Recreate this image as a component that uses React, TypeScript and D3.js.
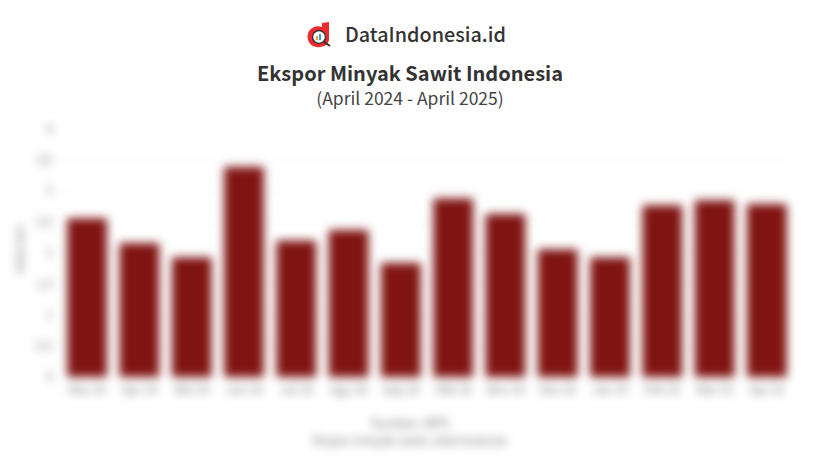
import React, { useEffect, useRef } from 'react'
import * as d3 from 'd3'

const months = ['Mar 24', 'Apr 24', 'Mei 24', 'Jun 24', 'Jul 24', 'Agu 24', 'Sep 24', 'Okt 24', 'Nov 24', 'Des 24', 'Jan 25', 'Feb 25', 'Mar 25', 'Apr 25']
const exportValues = [2.56, 2.16, 1.93, 3.39, 2.2, 2.37, 1.84, 2.88, 2.63, 2.06, 1.93, 2.77, 2.85, 2.79]
const yTicks = [0, 0.5, 1, 1.5, 2, 2.5, 3, 3.5, 4]

const sans = '"Noto Sans CJK SC", "Noto Sans", sans-serif'

export default function App() {
  const chartRef = useRef<SVGGElement>(null)

  useEffect(() => {
    if (!chartRef.current) return

    const g = d3.select(chartRef.current)
    g.selectAll('*').remove()

    const x = d3.scaleBand().domain(months).range([62, 792]).paddingInner(0.24).paddingOuter(0.1)
    const y = d3.scaleLinear().domain([0, 4]).range([377, 129])

    // white backing so the blur does not fade out unevenly around thin lines
    g.append('rect').attr('x', 0).attr('y', 112).attr('width', 820).attr('height', 348).attr('fill', '#fff')

    g.append('g')
      .selectAll('line')
      .data(yTicks)
      .join('line')
      .attr('x1', 62)
      .attr('x2', 790)
      .attr('y1', (d) => y(d))
      .attr('y2', (d) => y(d))
      .attr('stroke', '#f4f4f4')

    const yAxis = g
      .append('g')
      .attr('transform', 'translate(56,0)')
      .call(d3.axisLeft(y).tickValues(yTicks).tickSize(0).tickFormat((d) => String(d).replace('.', ',')))
    yAxis.select('.domain').remove()
    yAxis.selectAll('text').style('font-size', '12px').style('font-family', sans).style('fill', '#777')

    const xAxis = g
      .append('g')
      .attr('transform', 'translate(0,382)')
      .call(d3.axisBottom(x).tickSize(0))
    xAxis.select('.domain').remove()
    xAxis.selectAll('text').style('font-size', '12px').style('font-family', sans).style('fill', '#777')

    g.selectAll('.bar')
      .data(exportValues)
      .join('rect')
      .attr('class', 'bar')
      .attr('x', (_, i) => x(months[i]) || 0)
      .attr('y', (d) => y(d))
      .attr('width', x.bandwidth())
      .attr('height', (d) => y(0) - y(d))
      .attr('fill', '#7f1412')

    g.append('text')
      .attr('transform', 'translate(24,250) rotate(-90)')
      .attr('text-anchor', 'middle')
      .attr('font-family', sans)
      .attr('font-size', 13)
      .attr('fill', '#777')
      .text('Juta ton')

    g.append('text')
      .attr('x', 410)
      .attr('y', 428)
      .attr('text-anchor', 'middle')
      .attr('font-family', sans)
      .attr('font-size', 13)
      .attr('fill', '#777')
      .text('Sumber: BPS')

    g.append('text')
      .attr('x', 410)
      .attr('y', 445)
      .attr('text-anchor', 'middle')
      .attr('font-family', sans)
      .attr('font-size', 12)
      .attr('fill', '#777')
      .text('Ekspor minyak sawit, data bulanan')
  }, [])

  return (
    <svg width={820} height={460} style={{ position: 'absolute', left: 0, top: 0, background: '#fff' }}>
      <defs>
        <filter id="soft" filterUnits="userSpaceOnUse" x={0} y={112} width={820} height={348} colorInterpolationFilters="sRGB">
          <feGaussianBlur stdDeviation={5} />
        </filter>
      </defs>

      <g ref={chartRef} filter="url(#soft)" />

      {/* logo */}
      <path d="M322 23 L329 22 L329 40 Q328 46 320 47 A10.5 10.5 0 1 1 322 27 Z" fill="#ee2a2e" />
      <circle cx={319} cy={37} r={6.5} fill="#fff" stroke="#333" strokeWidth={1.4} />
      <rect x={316} y={36} width={2} height={4} fill="#e8a33d" />
      <rect x={319} y={34} width={2} height={6} fill="#3d9ad1" />
      <line x1={324} y1={42} x2={330} y2={46} stroke="#333" strokeWidth={2} />

      <text x={345} y={42} fontFamily={sans} fontSize={19.8} fontWeight={500} fill="#333">
        DataIndonesia.id
      </text>
      <text x={410} y={81} textAnchor="middle" fontFamily={sans} fontSize={20} fontWeight={700} fill="#333">
        Ekspor Minyak Sawit Indonesia
      </text>
      <text x={410} y={105} textAnchor="middle" fontFamily={sans} fontSize={17.5} fill="#444">
        (April 2024 - April 2025)
      </text>
    </svg>
  )
}
